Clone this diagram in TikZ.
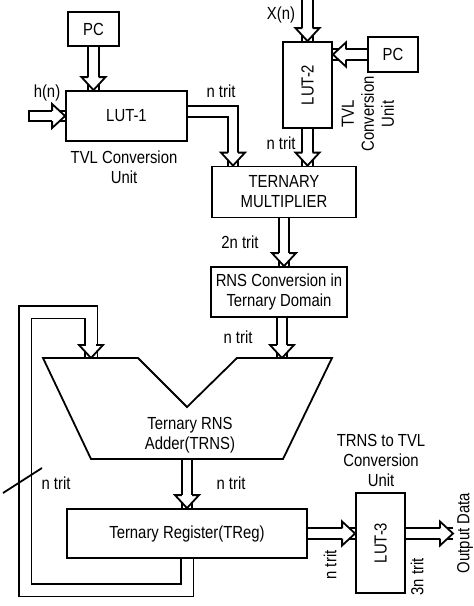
\documentclass[tikz,border=0pt]{standalone}
\usepackage{fontspec}
\setmainfont{Liberation Sans}[FakeStretch=0.85]
\usetikzlibrary{positioning,backgrounds}

\tikzset{
	block/.style 2 args={draw, fill=white, line width=1.8pt,
		minimum width=#1, minimum height=#2,
		inner sep=0pt, align=center},
	shaft/.style={line width=1.8pt, double=white, double distance=8.5pt},
	lbl/.style={inner sep=0pt, align=center},
	head/.pic={
		\fill[white] (-12,-13) -- (0,0) -- (12,-13) -- cycle;
		\draw[line width=1.8pt] (-5.1,-13) -- (-12,-13) -- (0,0) -- (12,-13) -- (5.1,-13);
	}
}

\begin{document}
\begin{tikzpicture}[x=1pt, y=-1pt, font=\fontsize{17.5}{20}\selectfont]
	\useasboundingbox (0,0) rectangle (474,606);
	
	% blocks
	\node[block={51}{34}] (pc1) at (93.5,29) {PC};
	\node[block={121}{50}] (lut1) at (126.5,116) {LUT-1};
	\node[block={49}{86}] (lut2) at (307.5,85) {\rotatebox{90}{LUT-2}};
	\node[block={50}{35}] (pc2) at (393,54.5) {PC};
	\node[block={144}{51}] (mult) at (284,192) {TERNARY\\MULTIPLIER};
	\node[block={136}{50}] (rns) at (279,292) {RNS Conversion in\\Ternary Domain};
	\node[block={240}{49}] (reg) at (187,533.5) {Ternary Register(TReg)};
	\node[block={49}{100}] (lut3) at (380.5,543) {\rotatebox{90}{LUT-3}};
	
	% adder
	\draw[fill=white, line width=1.8pt] (43,358) -- (138,358) -- (187,407) -- (237,358)
		-- (332,358) -- (283,459) -- (91,459) -- cycle;
	\node[lbl] (adder) at (190,435) {Ternary RNS\\Adder(TRNS)};
	
	\coordinate (hn) at (29,116);
	\coordinate (xn) at (307.5,0);
	\coordinate (ain1) at (91,358);
	\coordinate (ain2) at (282,358);
	\coordinate (aout) at (187,459);
	\coordinate (fbl) at (25,590);
	\coordinate (fbt) at (91,312);
	\coordinate (out) at (453,533.5);
	
	% connectors
	\begin{scope}[on background layer]
		\draw[shaft] (pc1.south) -- (pc1.south |- lut1.north);
		\pic at (pc1.south |- lut1.north) {head};
		\draw[shaft] (hn) -- (hn -| lut1.west);
		\pic[rotate=90] at (hn -| lut1.west) {head};
		\draw[line width=1.8pt] ([yshift=6.1pt]hn) -- ([yshift=-6.1pt]hn);
		\draw[shaft] ([yshift=4.5pt]lut1.east) -| ([xshift=-51pt]mult.north);
		\pic at ([xshift=-51pt]mult.north) {head};
		\draw[shaft] (xn) -- (lut2.north);
		\pic at (lut2.north) {head};
		\draw[shaft] (pc2.west) -- (pc2.west -| lut2.east);
		\pic[rotate=-90] at (pc2.west -| lut2.east) {head};
		\draw[shaft] (lut2.south) -- (lut2.south |- mult.north);
		\pic at (lut2.south |- mult.north) {head};
		\draw[shaft] (mult.south) -- (mult.south |- rns.north);
		\pic at (mult.south |- rns.north) {head};
		\draw[shaft] (rns.south -| ain2) -- (ain2);
		\pic at (ain2) {head};
		\draw[shaft] (aout) -- (aout |- reg.north);
		\pic at (aout |- reg.north) {head};
		\draw[shaft] (reg.east) -- (reg.east -| lut3.west);
		\pic[rotate=90] at (reg.east -| lut3.west) {head};
		\draw[shaft] (lut3.east |- out) -- (out);
		\pic[rotate=90] at (out) {head};
		\draw[shaft, double distance=11pt] (reg.south) |- (fbl) |- (fbt) -- (ain1);
		\pic at (ain1) {head};
	\end{scope}
	\draw[line width=1.8pt] (3,493) -- (42,468);
	
	% labels
	\node[lbl] at (47,93) {h(n)};
	\node[lbl] at (221,91) {n trit};
	\node[lbl] at (124,167) {TVL Conversion\\Unit};
	\node[lbl] at (281,15) {X(n)};
	\node[lbl, rotate=90] at (368,114) {TVL\\Conversion\\Unit};
	\node[lbl] at (281,143) {n trit};
	\node[lbl] at (240,242) {2n trit};
	\node[lbl] at (238,337) {n trit};
	\node[lbl] at (231,483) {n trit};
	\node[lbl] at (56,483) {n trit};
	\node[lbl] at (381,460) {TRNS to TVL\\Conversion\\Unit};
	\node[lbl, rotate=90] at (330,565) {n trit};
	\node[lbl, rotate=90] at (417,577) {3n trit};
	\node[lbl, rotate=90] at (465,533) {Output Data};
\end{tikzpicture}
\end{document}
